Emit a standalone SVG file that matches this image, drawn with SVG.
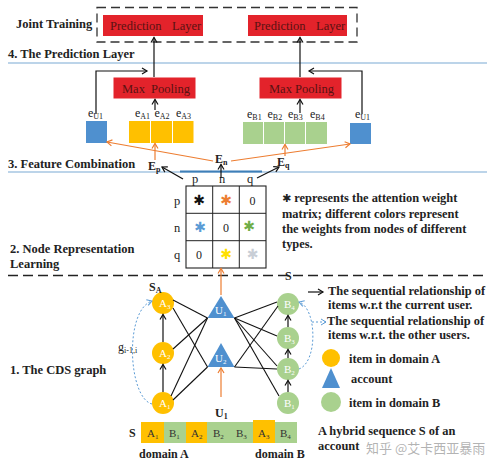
<svg xmlns="http://www.w3.org/2000/svg" width="491" height="471" viewBox="0 0 491 471">
<defs>
<style>
.t{font-family:"Liberation Serif","Times New Roman",serif;font-weight:bold;fill:#222}
.n{font-family:"Liberation Serif","Times New Roman",serif;fill:#222}
.red{fill:#E3232B}
.rt{font-family:"Liberation Serif","Times New Roman",serif;fill:#5a1212;font-size:12.5px}
.blk{stroke:#111;stroke-width:1.2;fill:none}
.org{stroke:#ED7D31;stroke-width:1.2;fill:none}
.sep{stroke:#7AA9D3;stroke-width:1.2}
.ca{fill:#FFC000}
.cb{fill:#A9D18E}
.cu{fill:#4F90CF}
.wt{font-family:"Liberation Serif","Times New Roman",serif;fill:#fff;font-size:11px}
.st{font-family:"Liberation Serif","Times New Roman",serif;fill:#333;font-size:11px}
.edge{stroke:#111;stroke-width:1.1;fill:none}
.ast{font-family:"DejaVu Sans",sans-serif;font-size:14px;font-weight:bold}
</style>
<marker id="ab" markerWidth="8" markerHeight="8" refX="6" refY="4" orient="auto" markerUnits="userSpaceOnUse">
<path d="M1,1 L6,4 L1,7" stroke="#111" stroke-width="1.2" fill="none"/>
</marker>
<marker id="ao" markerWidth="8" markerHeight="8" refX="6" refY="4" orient="auto" markerUnits="userSpaceOnUse">
<path d="M1,1 L6,4 L1,7" stroke="#ED7D31" stroke-width="1.2" fill="none"/>
</marker>
<marker id="abl" markerWidth="8" markerHeight="8" refX="6" refY="4" orient="auto" markerUnits="userSpaceOnUse">
<path d="M1,1 L6,4 L1,7" stroke="#5B9BD5" stroke-width="1" fill="none"/>
</marker>
</defs>
<rect width="491" height="471" fill="#fff"/>

<g id="sections">
<text class="t" x="16" y="28" font-size="12.5">Joint Training</text>
<rect x="97" y="7.5" width="260" height="34.5" fill="none" stroke="#333" stroke-width="1.3" stroke-dasharray="9,5"/>
<text class="t" x="8" y="58" font-size="12.5">4. The Prediction Layer</text>
<line class="sep" x1="8" y1="63" x2="487" y2="63"/>
<text class="t" x="8" y="168" font-size="12.5">3. Feature Combination</text>
<line class="sep" x1="8" y1="172" x2="487" y2="172"/>
<line x1="180" y1="171.5" x2="262" y2="171.5" stroke="#3E7FB8" stroke-width="2.2"/>
<text class="t" x="10" y="253" font-size="12.5">2. Node Representation</text>
<text class="t" x="10" y="268" font-size="12.5">Learning</text>
<line x1="8" y1="275.5" x2="487" y2="275.5" stroke="#222" stroke-width="1.3" stroke-dasharray="10,5"/>
<text class="t" x="10" y="374" font-size="12.5">1. The CDS graph</text>
</g>

<g id="pred-left">
<rect class="red" x="103" y="15" width="100" height="21"/>
<text class="rt" x="110" y="30">Prediction</text><text class="rt" x="172" y="30">Layer</text>
</g>
<g id="pred-right">
<rect class="red" x="248" y="15" width="99" height="21"/>
<text class="rt" x="254" y="30">Prediction</text><text class="rt" x="316" y="30">Layer</text>
</g>
<g id="maxpool-left">
<rect class="red" x="113.5" y="77.5" width="82" height="21"/>
<text class="rt" x="122" y="93" font-size="13">Max</text><text class="rt" x="151" y="93" font-size="13">Pooling</text>
</g>
<g id="maxpool-right">
<rect class="red" x="259.5" y="77.5" width="82" height="21"/>
<text class="rt" x="269" y="93" font-size="13">Max Pooling</text>
</g>

<g id="emb-u1-left">
<rect class="cu" x="86" y="121" width="21" height="22"/>
<text class="n" x="88" y="117" font-size="12">e<tspan font-size="8" dy="2">U1</tspan></text>
</g>
<g id="emb-a">
<rect class="ca" x="129" y="121" width="21" height="22"/>
<rect class="ca" x="151" y="121" width="21" height="22"/>
<rect class="ca" x="173" y="121" width="20.5" height="22"/>
<text class="n" x="135" y="117" font-size="12">e<tspan font-size="8" dy="2">A1</tspan></text>
<text class="n" x="154.5" y="117" font-size="12">e<tspan font-size="8" dy="2">A2</tspan></text>
<text class="n" x="176" y="117" font-size="12">e<tspan font-size="8" dy="2">A3</tspan></text>
</g>
<g id="emb-b">
<rect class="cb" x="243" y="122" width="20" height="22"/>
<rect class="cb" x="264" y="122" width="20" height="22"/>
<rect class="cb" x="285" y="122" width="20" height="22"/>
<rect class="cb" x="306" y="122" width="21" height="22"/>
<text class="n" x="247" y="118" font-size="12">e<tspan font-size="8" dy="2">B1</tspan></text>
<text class="n" x="267.5" y="118" font-size="12">e<tspan font-size="8" dy="2">B2</tspan></text>
<text class="n" x="288" y="118" font-size="12">e<tspan font-size="8" dy="2">B3</tspan></text>
<text class="n" x="310" y="118" font-size="12">e<tspan font-size="8" dy="2">B4</tspan></text>
</g>
<g id="emb-u1-right">
<rect class="cu" x="350" y="123" width="21" height="21"/>
<text class="n" x="355" y="118" font-size="12">e<tspan font-size="8" dy="2">U1</tspan></text>
</g>

<g id="E-labels">
<text class="t" x="148" y="170" font-size="12">E<tspan font-size="8" dy="2">p</tspan></text>
<text class="t" x="215" y="163" font-size="12">E<tspan font-size="8" dy="2">n</tspan></text>
<text class="t" x="277" y="166" font-size="12">E<tspan font-size="8" dy="2">q</tspan></text>
</g>

<g id="matrix">
<rect x="186" y="186" width="80" height="82" fill="none" stroke="#222" stroke-width="1.1"/>
<line x1="212.7" y1="186" x2="212.7" y2="268" stroke="#222" stroke-width="1"/>
<line x1="239.3" y1="186" x2="239.3" y2="268" stroke="#222" stroke-width="1"/>
<line x1="186" y1="213.3" x2="266" y2="213.3" stroke="#222" stroke-width="1"/>
<line x1="186" y1="240.7" x2="266" y2="240.7" stroke="#222" stroke-width="1"/>
<text class="n" x="195" y="183" font-size="12.5" text-anchor="middle">p</text>
<text class="n" x="222" y="183" font-size="12.5" text-anchor="middle">n</text>
<text class="n" x="250" y="183" font-size="12.5" text-anchor="middle">q</text>
<text class="n" x="177" y="205" font-size="12.5" text-anchor="middle">p</text>
<text class="n" x="177" y="232" font-size="12.5" text-anchor="middle">n</text>
<text class="n" x="177" y="259" font-size="12.5" text-anchor="middle">q</text>
<text class="ast" x="199" y="205" text-anchor="middle" fill="#111">✱</text>
<text class="ast" x="226" y="205" text-anchor="middle" fill="#ED7D31">✱</text>
<text class="n" x="252.5" y="205" font-size="12" text-anchor="middle">0</text>
<text class="ast" x="200" y="232" text-anchor="middle" fill="#5B9BD5">✱</text>
<text class="n" x="226" y="232" font-size="12" text-anchor="middle">0</text>
<text class="ast" x="249" y="231" text-anchor="middle" fill="#70AD47">✱</text>
<text class="n" x="199" y="259" font-size="12" text-anchor="middle">0</text>
<text class="ast" x="226" y="259" text-anchor="middle" fill="#FFE000">✱</text>
<text class="ast" x="252.5" y="259" text-anchor="middle" fill="#C8CED6">✱</text>
</g>

<g id="matrix-note">
<text class="t" x="282" y="202" font-size="12.4"><tspan font-family="DejaVu Sans" font-size="11">✱</tspan> represents the attention weight</text>
<text class="t" x="282" y="218" font-size="12.4">matrix; different colors represent</text>
<text class="t" x="282" y="233" font-size="12.4">the weights from  nodes of different</text>
<text class="t" x="282" y="248" font-size="12.4">types.</text>
</g>

<g id="node-A3"><circle class="ca" cx="163" cy="303" r="11"/><text class="wt" x="159" y="307">A<tspan font-size="7" dy="2">3</tspan></text></g>
<g id="node-A2"><circle class="ca" cx="163" cy="353" r="11"/><text class="wt" x="159" y="357">A<tspan font-size="7" dy="2">2</tspan></text></g>
<g id="node-A1"><circle class="ca" cx="163" cy="403" r="11"/><text class="wt" x="159" y="407">A<tspan font-size="7" dy="2">1</tspan></text></g>
<g id="node-U1"><polygon class="cu" points="221,296 207.5,318 234.5,318"/><text class="wt" x="215" y="314">U<tspan font-size="7" dy="2">1</tspan></text></g>
<g id="node-U2"><polygon class="cu" points="221,343 207.5,367 234.5,367"/><text class="wt" x="215" y="362">U<tspan font-size="7" dy="2">2</tspan></text></g>
<g id="node-B4"><circle class="cb" cx="288" cy="304" r="11"/><text class="wt" x="284" y="308">B<tspan font-size="7" dy="2">4</tspan></text></g>
<g id="node-B3"><circle class="cb" cx="288" cy="338" r="11"/><text class="wt" x="284" y="342">B<tspan font-size="7" dy="2">3</tspan></text></g>
<g id="node-B2"><circle class="cb" cx="288" cy="369" r="11"/><text class="wt" x="284" y="373">B<tspan font-size="7" dy="2">2</tspan></text></g>
<g id="node-B1"><circle class="cb" cx="288" cy="403" r="11"/><text class="wt" x="284" y="407">B<tspan font-size="7" dy="2">1</tspan></text></g>
<text class="t" x="149" y="291" font-size="12">S<tspan font-size="8" dy="2">A</tspan></text>
<text class="t" x="285" y="280" font-size="12">S</text>
<text class="t" x="215" y="417" font-size="12">U<tspan font-size="8" dy="2">1</tspan></text>
<text class="n" x="118" y="351" font-size="12" fill="#666">g<tspan font-size="8" dy="2">i-1,i</tspan></text>

<g id="connectors">
<line class="blk" x1="154" y1="77" x2="154" y2="37.5" marker-end="url(#ab)"/>
<line class="blk" x1="300" y1="77" x2="300" y2="37.5" marker-end="url(#ab)"/>
<polyline class="blk" points="96,114 96,71 147,71" marker-end="url(#ab)"/>
<polyline class="blk" points="362,114 362,71 309,71" marker-end="url(#ab)"/>
<line class="blk" x1="155" y1="110" x2="155" y2="99.5" marker-end="url(#ab)"/>
<line class="blk" x1="300" y1="113" x2="300" y2="99.5" marker-end="url(#ab)"/>
<line class="org" x1="213" y1="161" x2="107" y2="142" marker-end="url(#ao)"/>
<line class="org" x1="231" y1="161" x2="350" y2="144" marker-end="url(#ao)"/>
<line class="org" x1="155" y1="160" x2="155" y2="143.5" marker-end="url(#ao)"/>
<line class="org" x1="285" y1="156" x2="285" y2="144.5" marker-end="url(#ao)"/>
<line class="blk" x1="183" y1="179" x2="162" y2="167" marker-end="url(#ab)"/>
<line class="blk" x1="221" y1="178" x2="221" y2="164.5" marker-end="url(#ab)"/>
<line class="blk" x1="257" y1="178" x2="279" y2="167" marker-end="url(#ab)"/>
<line class="org" x1="221" y1="295" x2="221" y2="268.5" marker-end="url(#ao)"/>
<line class="org" x1="221" y1="397" x2="221" y2="368" marker-end="url(#ao)"/>
<line class="edge" x1="173" y1="300" x2="207.5" y2="318"/>
<line class="edge" x1="173" y1="308" x2="207.5" y2="367"/>
<line class="edge" x1="173" y1="349" x2="207.5" y2="318"/>
<line class="edge" x1="171" y1="396" x2="207.5" y2="318"/>
<line class="edge" x1="173" y1="400" x2="207.5" y2="367"/>
<line class="edge" x1="234.5" y1="318" x2="277" y2="302"/>
<line class="edge" x1="234.5" y1="318" x2="277" y2="336"/>
<line class="edge" x1="234.5" y1="318" x2="277" y2="366"/>
<line class="edge" x1="234.5" y1="318" x2="279" y2="396"/>
<line class="edge" x1="234.5" y1="367" x2="278" y2="306"/>
<line class="edge" x1="234.5" y1="367" x2="277" y2="369"/>
<line class="blk" x1="163" y1="392" x2="163" y2="364.5" marker-end="url(#ab)"/>
<line class="blk" x1="163" y1="342" x2="163" y2="314.5" marker-end="url(#ab)"/>
<line class="blk" x1="288" y1="392" x2="288" y2="380.5" marker-end="url(#ab)"/>
<line class="blk" x1="288" y1="358" x2="288" y2="349.5" marker-end="url(#ab)"/>
<line class="blk" x1="288" y1="327" x2="288" y2="315.5" marker-end="url(#ab)"/>
<path d="M152,404 C128,398 124,310 152,301" stroke="#5B9BD5" stroke-width="1" stroke-dasharray="2,2" fill="none" marker-end="url(#abl)"/>
<path d="M299,369 C318,362 317,308 299,302" stroke="#5B9BD5" stroke-width="1" stroke-dasharray="2,2" fill="none" marker-end="url(#abl)"/>
</g>

<g id="legend">
<line class="blk" x1="308" y1="292" x2="323" y2="292" marker-end="url(#ab)"/>
<text class="t" x="328" y="295" font-size="12.4">The sequential relationship of</text>
<text class="t" x="328" y="309" font-size="12.4">items w.r.t the current user.</text>
<line x1="312" y1="322" x2="326" y2="322" stroke="#5B9BD5" stroke-width="1" stroke-dasharray="2,2" marker-end="url(#abl)"/>
<text class="t" x="327" y="325" font-size="12.4">The sequential relationship of</text>
<text class="t" x="328" y="339" font-size="12.4">items w.r.t. the other users.</text>
<circle class="ca" cx="331" cy="358" r="9"/>
<text class="t" x="349" y="363" font-size="12.4">item in domain A</text>
<polygon class="cu" points="331,368 322,388 340,388"/>
<text class="t" x="351" y="383" font-size="12.4">account</text>
<circle class="cb" cx="331" cy="402" r="10"/>
<text class="t" x="349" y="407" font-size="12.4">item in domain B</text>
</g>

<g id="sequence">
<text class="t" x="129" y="437" font-size="12">S</text>
<rect class="ca" x="141" y="422" width="23" height="21"/>
<rect class="cb" x="164" y="422" width="22" height="21"/>
<rect class="ca" x="186" y="422" width="21" height="21"/>
<rect class="cb" x="207" y="422" width="24" height="21"/>
<rect class="cb" x="231" y="422" width="22" height="21"/>
<rect class="ca" x="253" y="420" width="22" height="23"/>
<rect class="cb" x="275" y="422" width="22" height="21"/>
<text class="st" x="147" y="437">A<tspan font-size="7" dy="2">1</tspan></text>
<text class="st" x="169" y="437">B<tspan font-size="7" dy="2">1</tspan></text>
<text class="st" x="191" y="437">A<tspan font-size="7" dy="2">2</tspan></text>
<text class="st" x="213" y="437">B<tspan font-size="7" dy="2">2</tspan></text>
<text class="st" x="236" y="437">B<tspan font-size="7" dy="2">3</tspan></text>
<text class="st" x="258" y="437">A<tspan font-size="7" dy="2">3</tspan></text>
<text class="st" x="280" y="437">B<tspan font-size="7" dy="2">4</tspan></text>
<text class="t" x="139" y="458" font-size="12">domain A</text>
<text class="t" x="255" y="458" font-size="12">domain B</text>
<text class="t" x="318" y="435" font-size="12.4">A  hybrid sequence S of  an</text>
<text class="t" x="318" y="450" font-size="12.4">account</text>
<text x="366" y="453" font-family="'Noto Sans CJK SC',sans-serif" font-size="13" fill="#9a9a9a" fill-opacity="0.75">知乎 @艾卡西亚暴雨</text>
</g>
</svg>
